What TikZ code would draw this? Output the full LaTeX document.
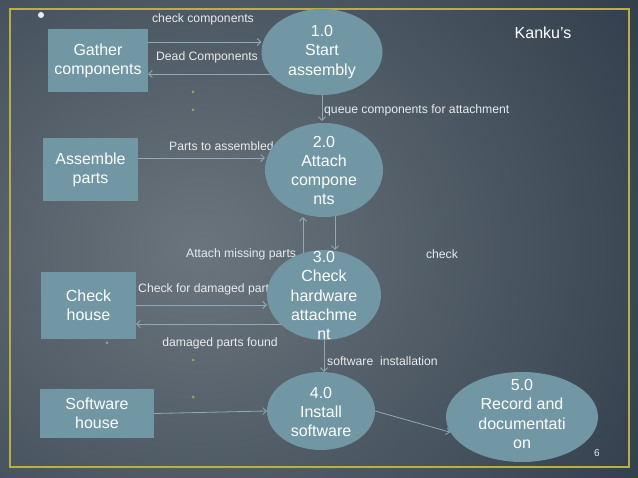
\documentclass[tikz,border=0pt]{standalone}
\usepackage{fontspec}
\setmainfont{Liberation Sans}
\usetikzlibrary{arrows.meta,shapes.geometric}
\pgfdeclarelayer{bgl}
\pgfdeclarelayer{conn}
\pgfsetlayers{bgl,conn,main}
\definecolor{bgdark}{HTML}{1E2C3B}
\definecolor{bglight}{HTML}{6B757D}
\definecolor{boxc}{HTML}{7097A3}
\definecolor{arrc}{HTML}{8FAAB4}
\definecolor{labc}{HTML}{E8EBEE}
\definecolor{framec}{HTML}{B8B043}
\definecolor{dotc}{HTML}{A8A060}
\begin{document}
\begin{tikzpicture}[x=1pt,y=-1pt,
  entity/.style={rectangle, fill=boxc, inner sep=0pt, text=white, align=center,
    font=\fontsize{16}{19}\selectfont},
  proc/.style={ellipse, fill=boxc, inner sep=0pt},
  ptext/.style={text=white, align=center, inner sep=0pt, font=\fontsize{16}{19.3}\selectfont},
  lab/.style={text=labc, inner sep=0pt, font=\fontsize{12.2}{14}\selectfont},
  arr/.style={draw=arrc, line width=0.8pt, -{Straight Barb[length=3.5pt,width=7pt]}},
  ydot/.style={fill=dotc, draw=none}]
\useasboundingbox (0,0) rectangle (638,478);
\begin{pgfonlayer}{bgl}
  \fill[bgdark] (0,0) rectangle (638,478);
  \begin{scope}
    \clip (0,0) rectangle (638,478);
    \shade[inner color=bglight, outer color=bgdark] (200,250) ellipse (700 and 620);
  \end{scope}
  \draw[framec, line width=1.5pt] (10,9) rectangle (629,467);
\end{pgfonlayer}

% bullets
\fill[white!85!gray] (41,15) circle (3);
\foreach \p in {(193,92),(193,110),(107,343),(193,360),(193,397)}
  \fill[ydot] \p circle (1.5);

% external entities
\node[entity, minimum width=100, minimum height=63] (g) at (98,60.5) {Gather\\components};
\node[entity, minimum width=95, minimum height=63] (a) at (90.5,169.5) {Assemble\\parts};
\node[entity, minimum width=95, minimum height=67] (h) at (88.5,305.5) {Check\\house};
\node[entity, minimum width=114, minimum height=49] (s) at (97,413.5) {Software\\house};

% processes
\node[proc, minimum width=121, minimum height=86] (p1) at (322,52) {};
\node[proc, minimum width=118, minimum height=94] (p2) at (324,170) {};
\node[proc, minimum width=114, minimum height=90] (p3) at (324,295) {};
\node[proc, minimum width=108, minimum height=78] (p4) at (321,411) {};
\node[proc, minimum width=152, minimum height=90] (p5) at (522,417) {};

\node[ptext] (t1) at (p1) {1.0\\Start\\assembly};
\node[ptext] (t2) at (324,170.5) {2.0\\Attach\\compone\\nts};
\node[ptext] (t3) at (324,295.5) {3.0\\Check\\hardware\\attachme\\nt};
\node[ptext] (t4) at (321,412) {4.0\\Install\\software};
\node[ptext] (t5) at (522,414) {5.0\\Record and\\documentati\\on};

% connectors and labels (beneath the processes)
\begin{pgfonlayer}{conn}
  \draw[arr] (g.east |- 0,42) -- (p1.west |- 0,42);
  \draw[arr] (p1.center |- 0,74) -- (g.east |- 0,74);
  \draw[arr] ([yshift=2pt]p1.south) -- ([yshift=2pt]p1.south |- p2.north);
  \draw[arr] (a.east |- 0,158) -- (p2.west |- 0,158);
  \draw[arr] ([xshift=11pt]p2.center) -- ([xshift=11pt]p3.north);
  \draw[arr] ([xshift=-21pt]p3.center) -- ([xshift=-21pt]p2.south);
  \draw[arr] (h.east |- 0,305) -- (p3.west |- 0,305);
  \draw[arr] (p3.center |- 0,324) -- (h.east |- 0,324);
  \draw[arr] (p3.south) -- (p3.south |- p4.north);
  \draw[arr] (s.east) -- (p4.west);
  \draw[arr] (p4.east) -- (p5.192);

  \node[lab] (l1) at (203,19) {check components};
  \node[lab] (l2) at (207,57) {Dead Components};
  \node[lab, anchor=west] (l3) at (324,110) {queue components for attachment};
  \node[lab, anchor=west] (l4) at (169,146) {Parts to assembled};
  \node[lab, anchor=west] (l5) at (186,254) {Attach missing parts};
  \node[lab] (l6) at (442,254) {check};
  \node[lab, anchor=west] (l7) at (138,289) {Check for damaged parts};
  \node[lab] (l8) at (220,343) {damaged parts found};
  \node[lab, anchor=west] (l9) at (327,361) {software\ \ installation};
\end{pgfonlayer}

\node[text=white, inner sep=0pt, font=\fontsize{16}{19}\selectfont] (k) at (543,33) {Kanku's};
\node[text=labc, inner sep=0pt, font=\fontsize{10}{12}\selectfont] (pg) at (597,453) {6};
\end{tikzpicture}
\end{document}
